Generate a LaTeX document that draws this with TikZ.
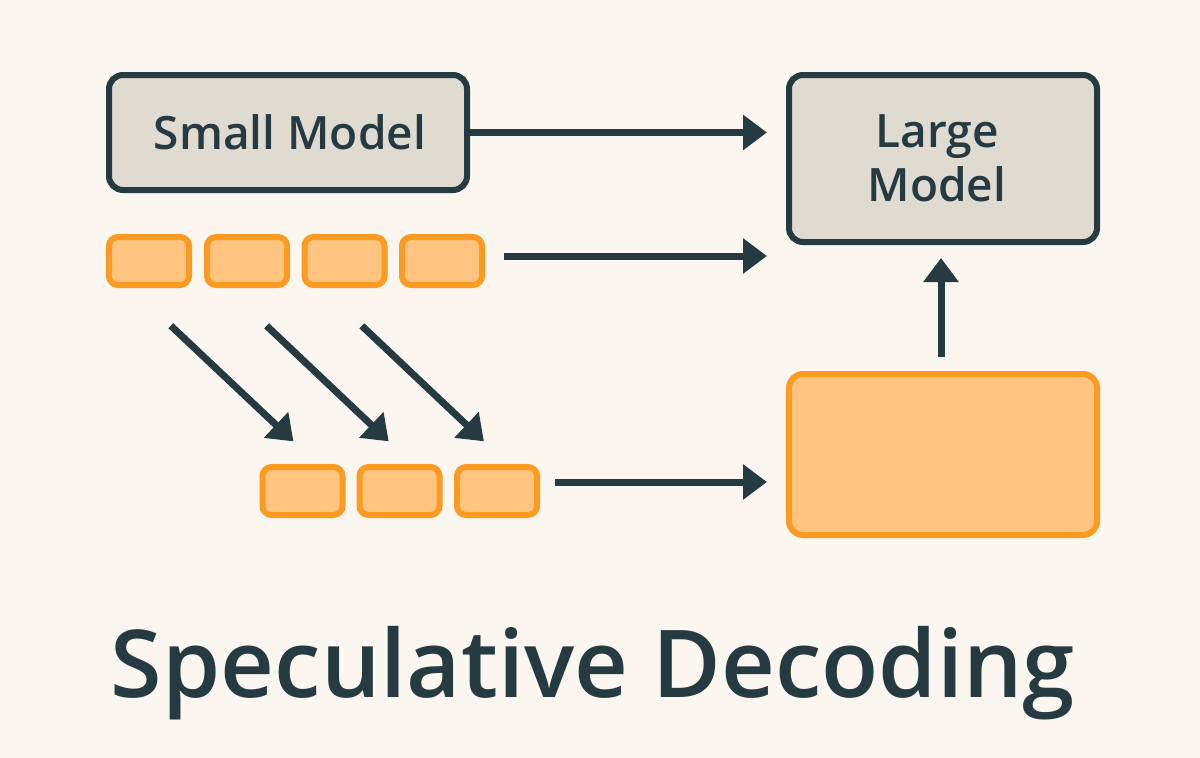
\documentclass[tikz,border=0pt]{standalone}
\usepackage{fontspec}
\usepackage{tikz}
\usetikzlibrary{arrows.meta}
\setmainfont{Open Sans Semibold}
\definecolor{paper}{HTML}{FBF6EF}
\definecolor{ink}{HTML}{263A42}
\definecolor{stone}{HTML}{E0DBD1}
\definecolor{amber}{HTML}{FB9B21}
\definecolor{peach}{HTML}{FFC47F}
\tikzset{
    model/.style={draw=ink, fill=stone, text=ink, line width=6pt, rounded corners=14pt, align=center, inner sep=0pt,
        font=\fontsize{46}{54}\selectfont},
    token/.style={draw=amber, fill=peach, line width=6pt, rounded corners=9pt, minimum width=80pt, minimum height=48pt},
    arrow/.style={draw=ink, line width=7pt, -{Triangle[length=24pt,width=34pt]}}
}

\begin{document}
\begin{tikzpicture}[x=1pt, y=-1pt]
            \useasboundingbox (0,0) rectangle (1200,758);
            \fill[paper] (0,0) rectangle (1200,758);

            \node[model, minimum width=358pt, minimum height=115pt] (small) at (288,132.5) {\rule{4pt}{0pt}Small Model};
            \node[model, minimum width=308pt, minimum height=167pt] (large) at (943,158.5) {Large\rule{12pt}{0pt}\\Model\rule{12pt}{0pt}};

            % tokens from the small model
            \node[token] (draftA) at (149,261) {};
            \node[token] (draftB) at (247,261) {};
            \node[token] (draftC) at (344.5,261) {};
            \node[token] (draftD) at (442,261) {};

            % tokens that were kept
            \node[token] (keptA) at (302.5,491) {};
            \node[token] (keptB) at (399.5,491) {};
            \node[token] (keptC) at (497,491) {};

            \node[token, rounded corners=14pt, minimum width=308pt, minimum height=161pt] (check) at (943,454.5) {};

            \draw[arrow, shorten >=19pt] (small.east) -- (small.east -| large.west);
            \draw[arrow, shorten <=19pt, shorten >=19pt] ([yshift=5pt]draftD.east) -- ([yshift=5pt]draftD.east -| large.west);
            \draw[arrow, shorten <=15pt, shorten >=19pt] ([yshift=9pt]keptC.east) -- ([yshift=9pt]keptC.east -| check.west);
            \draw[arrow, shorten <=14pt, shorten >=13pt] ([xshift=-2pt]check.north) -- ([xshift=-2pt]large.south);

            \draw[arrow, shorten <=55pt, shorten >=33pt] (draftA.236) -- (keptA.61);
            \draw[arrow, shorten <=55pt, shorten >=33pt] (draftB.233.5) -- (keptB.64.3);
            \draw[arrow, shorten <=55pt, shorten >=33pt] (draftC.230) -- (keptC.68.7);

            \node[text=ink, inner sep=0pt, anchor=base, font=\fontsize{93.7}{100}\selectfont] (title) at (593,697) {Speculative Decoding};
        \end{tikzpicture}
\end{document}
